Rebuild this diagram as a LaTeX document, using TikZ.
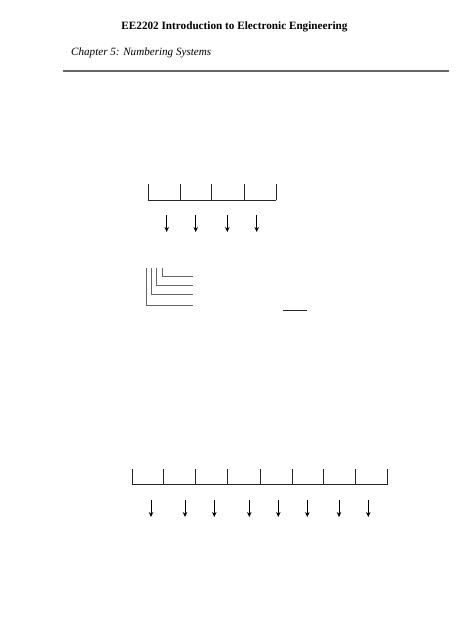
\documentclass[tikz,border=0pt]{standalone}
\usepackage{fontspec}
\setmainfont{Liberation Serif}
\usetikzlibrary{arrows.meta}
\begin{document}
\begin{tikzpicture}[x=1pt,y=-1pt,
  boxline/.style={draw=black!85,line width=1pt},
  brk/.style={draw=black!60,line width=0.8pt},
  arr/.style={draw=black,line width=0.8pt,-{Stealth[length=5pt,width=4.5pt]}},
  rule/.style={draw=black!60,line width=1.5pt}]
\useasboundingbox (0,0) rectangle (474,632);
\node[font=\bfseries\fontsize{11.2}{13}\selectfont] (title) at (234.5,27) {EE2202 Introduction to Electronic Engineering};
\node[font=\itshape\fontsize{11.1}{13}\selectfont,anchor=west,inner sep=0pt] (chap) at (71,53) {Chapter 5: Numbering Systems};
\coordinate (rl) at (63.3,71);
\coordinate (rr) at (449,71);
\draw[rule] (rl) -- (rr);
% upper register
\foreach \i/\x in {0/148.3,1/180.7,2/211.7,3/244,4/276}{
  \coordinate (ut\i) at (\x,184);
  \coordinate (ub\i) at (\x,200);
  \draw[boxline] (ut\i) -- (ub\i);
}
\draw[boxline] (ub0) -- (ub4);
\foreach \i/\x in {1/166.7,2/195.7,3/227.3,4/256.7}{
  \coordinate (ua\i) at (\x,215);
  \coordinate (uz\i) at (\x,232);
  \draw[arr] (ua\i) -- (uz\i);
}
% brackets
\foreach \i/\x/\y in {1/162/276.7,2/156.7/285.3,3/151.7/294.3,4/146.7/305}{
  \coordinate (bt\i) at (\x,267.7);
  \coordinate (bc\i) at (\x,\y);
  \coordinate (be\i) at (192.5,\y);
  \draw[brk] (bt\i) -- (bc\i) -- (be\i);
}
\coordinate (sl) at (282.7,310.7);
\coordinate (sr) at (307.3,310.7);
\draw[boxline] (sl) -- (sr);
% lower register
\foreach \i/\x in {0/132.3,1/163.3,2/195.7,3/227.7,4/260,5/292.3,6/323.3,7/355.7,8/387.7}{
  \coordinate (lt\i) at (\x,469);
  \coordinate (lb\i) at (\x,484.3);
  \draw[boxline] (lt\i) -- (lb\i);
}
\draw[boxline] (lb0) -- (lb8);
\foreach \i/\x in {1/151,2/185,3/214.3,4/249.3,5/278.3,6/307.3,7/339,8/368.3}{
  \coordinate (la\i) at (\x,500);
  \coordinate (lz\i) at (\x,517);
  \draw[arr] (la\i) -- (lz\i);
}
\end{tikzpicture}
\end{document}
